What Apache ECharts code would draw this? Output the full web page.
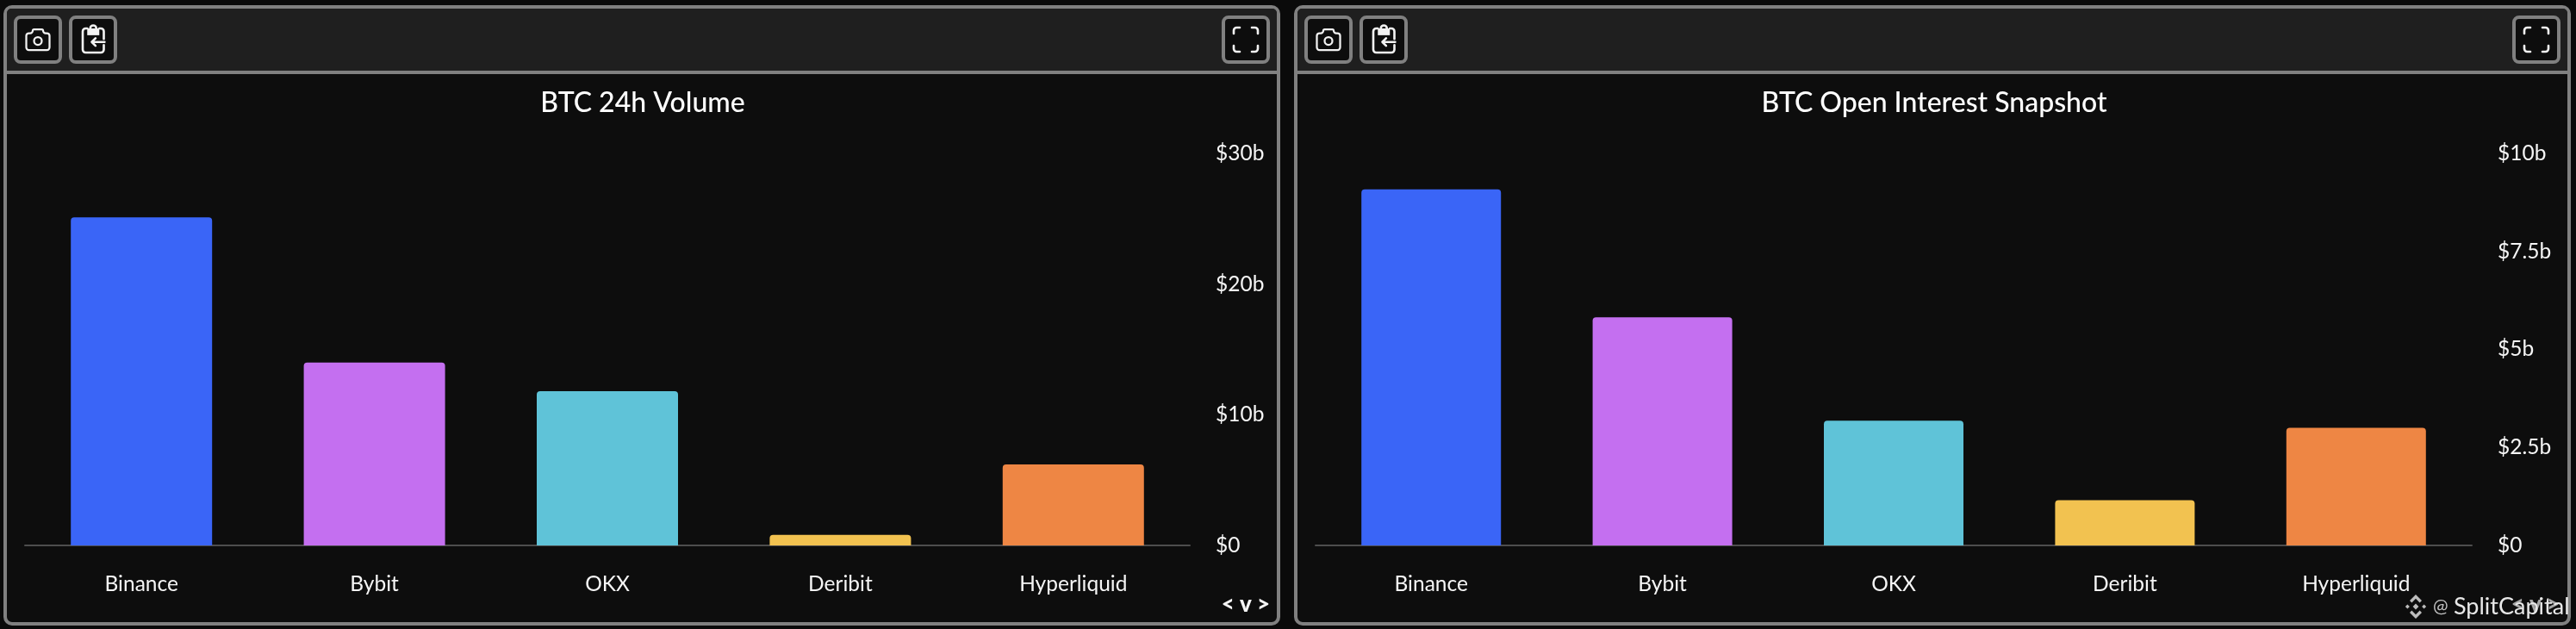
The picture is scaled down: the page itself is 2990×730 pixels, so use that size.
<!DOCTYPE html>
<html>
<head>
<meta charset="utf-8">
<style>html,body{margin:0;padding:0;background:#0a0a0a;overflow:hidden}#c{width:2990px;height:730px}</style>
<script src="https://cdn.jsdelivr.net/npm/echarts@6/dist/echarts.min.js"></script>
</head>
<body>
<div id="c"></div>
<script>
const categories = ['Binance', 'Bybit', 'OKX', 'Deribit', 'Hyperliquid'];
const barColors = ['#3a65f7', '#c46ff0', '#5fc3d8', '#f2c250', '#ee8644'];
const volumeValues = [25.1, 14.0, 11.8, 0.8, 6.2];
const openInterestValues = [9.08, 5.82, 3.18, 1.155, 3.0];
const volumeTitle = 'BTC 24h Volume';
const openInterestTitle = 'BTC Open Interest Snapshot';
const volumeAxis = { max: 30, interval: 10 };
const openInterestAxis = { max: 10, interval: 2.5 };

const FONT = 'Lato';
const BORDER = '#808080', HEADER = '#1f1f1f', BODY = '#0d0d0d';
const chart = echarts.init(document.getElementById('c'), null, { renderer: 'canvas' });

const camera = 'M5 7h1a2 2 0 0 0 2 -2a1 1 0 0 1 1 -1h6a1 1 0 0 1 1 1a2 2 0 0 0 2 2h1a2 2 0 0 1 2 2v9a2 2 0 0 1 -2 2h-14a2 2 0 0 1 -2 -2v-9a2 2 0 0 1 2 -2 M9 13a3 3 0 1 0 6 0a3 3 0 1 0 -6 0';
const clip = 'M19 12v-5a2 2 0 0 0 -2 -2h-1 M19 16v3a2 2 0 0 1 -2 2h-10a2 2 0 0 1 -2 -2v-12a2 2 0 0 1 2 -2h1 M19.5 14h-8.5 M13.5 11.5l-2.5 2.5l2.5 2.5 M10 5a2 2 0 1 1 4 0';
const clipFill = 'M8 5h8v4.5h-8z';
const maxi = 'M4 8v-2a2 2 0 0 1 2 -2h2 M4 16v2a2 2 0 0 0 2 2h2 M16 4h2a2 2 0 0 1 2 2v2 M16 20h2a2 2 0 0 0 2 -2v-2';
const binanceLogo = 'M0 -14L7 -7L4.6 -4.6L0 -9.2L-4.6 -4.6L-7 -7Z M0 14L7 7L4.6 4.6L0 9.2L-4.6 4.6L-7 7Z M0 -3.4L3.4 0L0 3.4L-3.4 0Z M-9.6 -2.5L-7.1 0L-9.6 2.5L-12.1 0Z M9.6 -2.5L12.1 0L9.6 2.5L7.1 0Z';

function strokeIcon(d, x, y, s) {
  return { type: 'path', x, y, scaleX: s, scaleY: s, shape: { pathData: d },
    style: { fill: 'none', stroke: '#f2f2f2', lineWidth: 1.5, lineCap: 'round', lineJoin: 'round' } };
}
function fillIcon(d, x, y, s, color) {
  return { type: 'path', x, y, scaleX: s, scaleY: s, shape: { pathData: d },
    style: { fill: color, stroke: 'none' } };
}
function panelIcons(x0, fsX) {
  return [
    strokeIcon(camera, x0 + 22, 28, 1.5),
    strokeIcon(clip, x0 + 83.25, 24.25, 1.75),
    fillIcon(clipFill, x0 + 83.25, 24.25, 1.75, '#f2f2f2'),
    strokeIcon(maxi, fsX + 7, 25, 1.75)
  ];
}
function button(x) {
  return { type: 'rect', shape: { x: x + 2, y: 20, width: 52, height: 52, r: 6 }, z: -1, z2: 3, silent: true,
    style: { fill: BODY, stroke: BORDER, lineWidth: 4 } };
}
function panel(x0, x1, fsX) {
  return [
    { type: 'rect', shape: { x: x0 + 2, y: 8, width: x1 - x0 - 4, height: 716, r: 8 }, z: -1, z2: 0, silent: true,
      style: { fill: BODY, stroke: BORDER, lineWidth: 4 } },
    { type: 'rect', shape: { x: x0 + 4, y: 10, width: x1 - x0 - 8, height: 72, r: [5, 5, 0, 0] }, z: -1, z2: 1, silent: true,
      style: { fill: HEADER } },
    { type: 'rect', shape: { x: x0 + 4, y: 82, width: x1 - x0 - 8, height: 4 }, z: -1, z2: 1, silent: true,
      style: { fill: BORDER } },
    button(x0 + 12), button(x0 + 76), button(fsX)
  ];
}
function navText(x, color) {
  return { type: 'text', x, y: 702, z: 6, silent: true,
    style: { text: '< v >', fill: color, font: '900 26px ' + FONT, textAlign: 'center', textVerticalAlign: 'middle' } };
}

const grids = [
  { left: 29, width: 1352, top: 178, height: 455 },
  { left: 1527, width: 1342, top: 178, height: 455 }
];
function xAxis(i) {
  return { type: 'category', gridIndex: i, data: categories,
    axisLine: { lineStyle: { color: '#4d4d4d', width: 2 } }, axisTick: { show: false },
    axisLabel: { color: '#f5f5f5', fontFamily: FONT, fontSize: 24.5, margin: 33 } };
}
function yAxis(i, cfg) {
  return { type: 'value', gridIndex: i, position: 'right', min: 0, max: cfg.max, interval: cfg.interval,
    axisLine: { show: false }, axisTick: { show: false }, splitLine: { show: false },
    axisLabel: { color: '#f5f5f5', fontFamily: FONT, fontSize: 24.5, margin: 30, align: 'left', padding: [3, 0, 0, 0],
      formatter: v => v === 0 ? '$0' : '$' + v + 'b' } };
}
function bars(i, values, w) {
  return { type: 'bar', xAxisIndex: i, yAxisIndex: i, barWidth: w, silent: true,
    data: values.map((v, k) => ({ value: v, itemStyle: { color: barColors[k], borderRadius: [4, 4, 0, 0] } })) };
}
function title(text, cx) {
  return { text, left: cx, top: 99, textAlign: 'center',
    textStyle: { color: '#ffffff', fontFamily: FONT, fontSize: 32, fontWeight: 500 } };
}
const iconSeries = {
  type: 'custom', coordinateSystem: 'none', silent: true, z: 10, data: [0],
  renderItem: () => ({ type: 'group', children: [
    ...panelIcons(4, 1418),
    ...panelIcons(1502, 2916),
    fillIcon(binanceLogo, 2804, 704, 1, '#bdbdbd')
  ] })
};

chart.setOption({
  backgroundColor: '#0a0a0a',
  animation: false,
  title: [title(volumeTitle, 741), title(openInterestTitle, 2240)],
  grid: grids,
  xAxis: [xAxis(0), xAxis(1)],
  yAxis: [yAxis(0, volumeAxis), yAxis(1, openInterestAxis)],
  series: [bars(0, volumeValues, 164), bars(1, openInterestValues, 162), iconSeries],
  graphic: { elements: [
    ...panel(4, 1486, 1418),
    ...panel(1502, 2984, 2916),
    navText(1446, '#f5f5f5'),
    navText(2943, '#a8a8a8'),
    { type: 'text', x: 2824, y: 704, z: 7, silent: true,
      style: { text: '@', fill: '#c4c4c4', font: '21px ' + FONT, textVerticalAlign: 'middle' } },
    { type: 'text', x: 2848, y: 704, z: 7, silent: true,
      style: { text: 'SplitCapital', fill: '#e8e8e8', font: '27px ' + FONT, textVerticalAlign: 'middle' } }
  ] }
});
</script>
</body>
</html>
